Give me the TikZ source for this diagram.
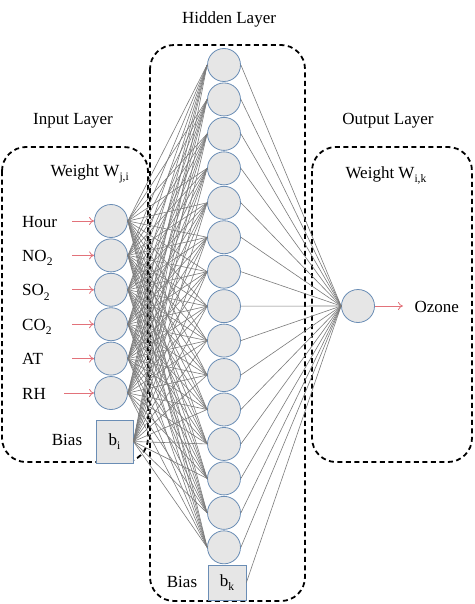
\documentclass[tikz,border=0pt]{standalone}
\usepackage{fontspec}
\setmainfont{Liberation Serif}
\usetikzlibrary{arrows.meta}
\definecolor{nodefill}{HTML}{E6E6E6}
\definecolor{nodeborder}{HTML}{6A8DB5}
\definecolor{arrowred}{HTML}{E2727A}
\definecolor{conngray}{HTML}{7A7A7A}
\newcommand\lsub[1]{\raisebox{-4.5pt}{\fontsize{11.5}{11.5}\selectfont #1}}
\begin{document}
\begin{tikzpicture}[x=1pt,y=-1pt,
  font=\fontsize{17}{20}\selectfont,
  neuron/.style={circle, draw=nodeborder, fill=nodefill, line width=0.8pt, minimum size=33pt, inner sep=0pt},
  biasbox/.style={rectangle, draw=nodeborder, fill=nodefill, line width=0.8pt, inner sep=0pt},
  layerbox/.style={draw=black, line width=1.8pt, dash pattern=on 5pt off 3.5pt, rounded corners=24pt},
  conn/.style={draw=conngray, line width=0.6pt},
  inarrow/.style={draw=arrowred, line width=0.8pt, -{To[length=5pt,width=8pt]}}]
\useasboundingbox (0,0) rectangle (474,604);
% layer boxes
\draw[layerbox] (2,147) rectangle (148,462);
\draw[layerbox] (150,45) rectangle (305,601);
\draw[layerbox] (312,147) rectangle (472,462);
% titles
\node[anchor=base] (tin) at (73,125) {Input Layer};
\node[anchor=base] (thid) at (229,24) {Hidden Layer};
\node[anchor=base] (tout) at (388,125) {Output Layer};
\node[anchor=base west] (wji) at (47,176) {Weight W\lsub{j,i}};
\node[anchor=base west] (wik) at (342,178) {Weight W\lsub{i,k}};
% hidden nodes
\foreach \k in {1,...,15}
  \node[neuron] (h\k) at (224,{65+34.45*(\k-1)}) {};
% input nodes
\foreach \k/\t/\s in {1/Hour/72,2/{NO\lsub{2}}/72,3/{SO\lsub{2}}/72,4/{CO\lsub{2}}/72,5/AT/72,6/RH/64}{
  \node[neuron] (i\k) at (111,{221+34.4*(\k-1)}) {};
  \node[anchor=base west, inner sep=0pt] (l\k) at (22,{221+34.4*(\k-1)+6}) {\t};
  \coordinate (a\k) at (\s,{221+34.4*(\k-1)});
  \draw[inarrow] (a\k) -- (i\k);
}
% biases
\node[biasbox, minimum width=37pt, minimum height=43pt] (bi) at (114.5,441.5) {b\lsub{i}};
\node[anchor=base] (bil) at (67,445) {Bias};
\node[biasbox, minimum width=38pt, minimum height=35pt] (bk) at (227,582.5) {b\lsub{k}};
\node[anchor=base] (bkl) at (182,587) {Bias};
% output
\node[neuron] (o) at (358,306) {};
\node[anchor=base west] (oz) at (411,312) {Ozone};
\coordinate (oa) at (403,306);
\draw[inarrow] (o) -- (oa);
% connections
\foreach \h in {1,...,15}{
  \foreach \k in {1,...,6}
    \draw[conn] (i\k.east) -- (h\h.west);
  \draw[conn] (bi.east) -- (h\h.west);
  \draw[conn] (h\h.east) -- (o.west);
}
\draw[conn] (bk.east) -- (o.west);
\end{tikzpicture}
\end{document}
